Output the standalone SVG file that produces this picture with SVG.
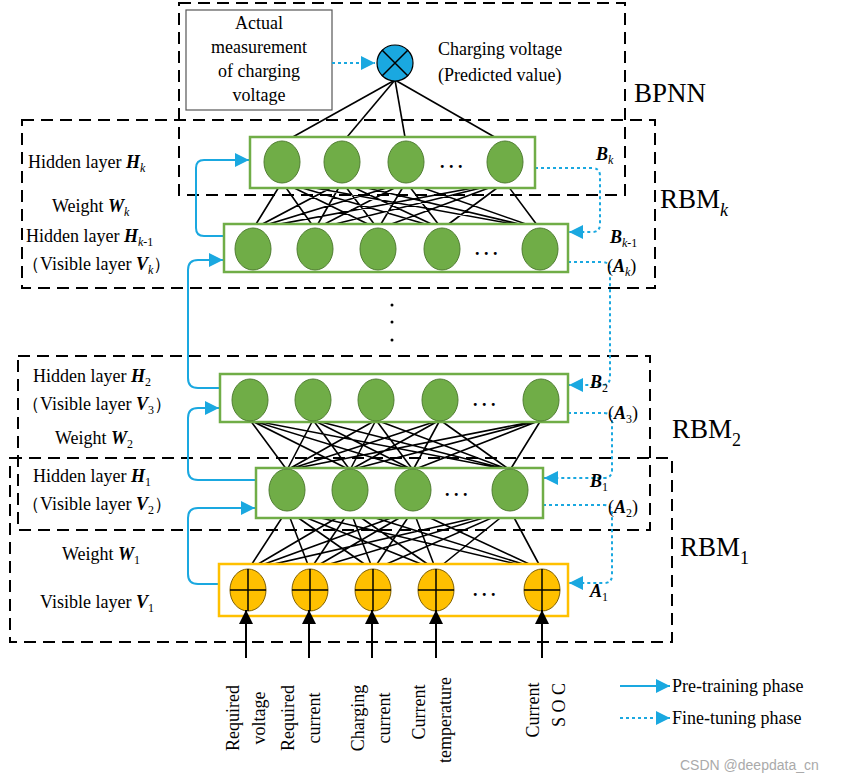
<svg xmlns="http://www.w3.org/2000/svg" width="850" height="782" viewBox="0 0 850 782" font-family="'Liberation Serif', 'Times New Roman', serif">
<defs>
<style>
text{font-family:"Liberation Serif","Times New Roman",serif;fill:#000}
.t{font-size:18px}
.dash{fill:none;stroke:#000;stroke-width:2;stroke-dasharray:12,7}
.lay{fill:#fff;stroke:#70ad47;stroke-width:2.5}
.g{fill:#70ad47;stroke:#507e32;stroke-width:1}
.o{fill:#ffc000;stroke:#7f6000;stroke-width:1}
.w{stroke:#000;stroke-width:1.6}
.pre{fill:none;stroke:#1aa8e0;stroke-width:2}
.fine{fill:none;stroke:#1aa8e0;stroke-width:2;stroke-dasharray:3,3}
</style>
<marker id="ab" viewBox="0 0 10 10" refX="10" refY="5" markerWidth="16" markerHeight="14" markerUnits="userSpaceOnUse" orient="auto"><path d="M0,0L10,5L0,10z" fill="#1aa8e0"/></marker>
<marker id="ak" viewBox="0 0 10 10" refX="10" refY="5" markerWidth="22" markerHeight="14" markerUnits="userSpaceOnUse" orient="auto"><path d="M0,0L10,5L0,10z" fill="#000"/></marker>
</defs>
<g id="frames">
<rect class="dash" x="179" y="3" width="446" height="192"/>
<rect class="dash" x="22" y="120" width="633" height="168"/>
<rect class="dash" x="18" y="356" width="632" height="174"/>
<rect class="dash" x="10" y="458" width="662" height="184"/>
</g>
<g id="measure"><rect x="186" y="10" width="146" height="100" fill="#fff" stroke="#555" stroke-width="1.2"/>
<text class="t" text-anchor="middle" x="259" y="29">Actual</text>
<text class="t" text-anchor="middle" x="259" y="53">measurement</text>
<text class="t" text-anchor="middle" x="259" y="77">of charging</text>
<text class="t" text-anchor="middle" x="259" y="101">voltage</text></g>
<g id="connectors">
<g class="w">
<line x1="395" y1="80" x2="282" y2="143"/><line x1="395" y1="80" x2="342" y2="143"/><line x1="395" y1="80" x2="406" y2="143"/><line x1="395" y1="80" x2="505" y2="143"/>
<path d="M282,182L253,229M282,182L315,229M282,182L378,229M282,182L442,229M282,182L540,229M342,182L253,229M342,182L315,229M342,182L378,229M342,182L442,229M342,182L540,229M406,182L253,229M406,182L315,229M406,182L378,229M406,182L442,229M406,182L540,229M505,182L253,229M505,182L315,229M505,182L378,229M505,182L442,229M505,182L540,229"/>
<path d="M250,420L287,470M313,420L287,470M376,420L287,470M440,420L287,470M541,420L287,470M250,420L350,470M313,420L350,470M376,420L350,470M440,420L350,470M541,420L350,470M250,420L413,470M313,420L413,470M376,420L413,470M440,420L413,470M541,420L413,470M250,420L510,470M313,420L510,470M376,420L510,470M440,420L510,470M541,420L510,470"/>
<path d="M287,510L248,570M287,510L310,570M287,510L373,570M287,510L436,570M287,510L542,570M350,510L248,570M350,510L310,570M350,510L373,570M350,510L436,570M350,510L542,570M413,510L248,570M413,510L310,570M413,510L373,570M413,510L436,570M413,510L542,570M510,510L248,570M510,510L310,570M510,510L373,570M510,510L436,570M510,510L542,570"/>
</g>
<path class="pre" d="M224,236H204Q196,236 196,228V168Q196,160 204,160H249" marker-end="url(#ab)"/>
<path class="pre" d="M220,388H198Q188,388 188,378V270Q188,260 198,260H223" marker-end="url(#ab)"/>
<path class="pre" d="M256,480H198Q188,480 188,470V418Q188,408 198,408H219" marker-end="url(#ab)"/>
<path class="pre" d="M219,584H198Q188,584 188,574V518Q188,508 198,508H255" marker-end="url(#ab)"/>
<path class="fine" d="M332,63H375" marker-end="url(#ab)"/>
<path class="fine" d="M535,168H592Q600,168 600,176V224Q600,232 592,232H569" marker-end="url(#ab)"/>
<path class="fine" d="M568,262H602Q610,262 610,270V377Q610,385 602,385H569" marker-end="url(#ab)"/>
<path class="fine" d="M568,413H604Q612,413 612,421V470Q612,478 604,478H544" marker-end="url(#ab)"/>
<path class="fine" d="M543,505H604Q612,505 612,513V575Q612,583 604,583H569" marker-end="url(#ab)"/>
</g>
<g id="output"><circle cx="395" cy="63" r="18" fill="#1aa8e0" stroke="#000" stroke-width="1.2"/><path d="M382,50L408,76M408,50L382,76" stroke="#000" stroke-width="1.5"/></g>
<g id="layer-Hk"><rect class="lay" x="250" y="137" width="285" height="51"/>
<ellipse class="g" cx="282" cy="162" rx="18" ry="21"/><ellipse class="g" cx="342" cy="162" rx="18" ry="21"/><ellipse class="g" cx="406" cy="162" rx="18" ry="21"/><ellipse class="g" cx="505" cy="162" rx="18" ry="21"/>
<text class="t" x="440" y="168" font-weight="bold">. . .</text></g>
<g id="layer-Hk1"><rect class="lay" x="224" y="224" width="344" height="48"/>
<ellipse class="g" cx="253" cy="249" rx="18" ry="21"/><ellipse class="g" cx="315" cy="249" rx="18" ry="21"/><ellipse class="g" cx="378" cy="249" rx="18" ry="21"/><ellipse class="g" cx="442" cy="249" rx="18" ry="21"/><ellipse class="g" cx="540" cy="249" rx="18" ry="21"/>
<text class="t" x="475" y="255" font-weight="bold">. . .</text></g>
<g id="vdots"><circle cx="392" cy="305" r="1.5"/><circle cx="392" cy="322" r="1.5"/><circle cx="392" cy="340" r="1.5"/></g>
<g id="layer-H2"><rect class="lay" x="220" y="374" width="348" height="48"/>
<ellipse class="g" cx="250" cy="400" rx="18" ry="21"/><ellipse class="g" cx="313" cy="400" rx="18" ry="21"/><ellipse class="g" cx="376" cy="400" rx="18" ry="21"/><ellipse class="g" cx="440" cy="400" rx="18" ry="21"/><ellipse class="g" cx="541" cy="400" rx="18" ry="21"/>
<text class="t" x="473" y="406" font-weight="bold">. . .</text></g>
<g id="layer-H1"><rect class="lay" x="256" y="468" width="287" height="50"/>
<ellipse class="g" cx="287" cy="490" rx="18" ry="21"/><ellipse class="g" cx="350" cy="490" rx="18" ry="21"/><ellipse class="g" cx="413" cy="490" rx="18" ry="21"/><ellipse class="g" cx="510" cy="490" rx="18" ry="21"/>
<text class="t" x="445" y="496" font-weight="bold">. . .</text></g>
<g id="layer-V1"><rect x="219" y="564" width="349" height="52" fill="#fff" stroke="#ffc000" stroke-width="2.5"/>
<g class="o"><ellipse cx="248" cy="590" rx="18" ry="21"/><ellipse cx="310" cy="590" rx="18" ry="21"/><ellipse cx="373" cy="590" rx="18" ry="21"/><ellipse cx="436" cy="590" rx="18" ry="21"/><ellipse cx="542" cy="590" rx="18" ry="21"/></g>
<path stroke="#000" stroke-width="1.5" d="M230,590H266M248,569V611M292,590H328M310,569V611M355,590H391M373,569V611M418,590H454M436,569V611M524,590H560M542,569V611"/>
<text class="t" x="473" y="596" font-weight="bold">. . .</text></g>
<g id="input-arrows" class="w" style="stroke-width:2">
<line x1="246" y1="658" x2="246" y2="610" marker-end="url(#ak)"/>
<line x1="309" y1="658" x2="309" y2="610" marker-end="url(#ak)"/>
<line x1="372" y1="658" x2="372" y2="610" marker-end="url(#ak)"/>
<line x1="436" y1="658" x2="436" y2="610" marker-end="url(#ak)"/>
<line x1="542" y1="658" x2="542" y2="610" marker-end="url(#ak)"/>
</g>
<g id="labels">
<text class="t" x="634" y="102" style="font-size:27px">BPNN</text>
<text class="t" x="438" y="55">Charging voltage</text>
<text class="t" x="438" y="81">(Predicted value)</text>
<text class="t" x="28" y="168">Hidden layer <tspan font-weight="bold" font-style="italic">H</tspan><tspan font-style="italic" font-size="12" dy="4">k</tspan></text>
<text class="t" x="52" y="212">Weight <tspan font-weight="bold" font-style="italic">W</tspan><tspan font-style="italic" font-size="12" dy="4">k</tspan></text>
<text class="t" x="26" y="242">Hidden layer <tspan font-weight="bold" font-style="italic">H</tspan><tspan font-style="italic" font-size="12" dy="4">k</tspan><tspan font-size="12">-1</tspan></text>
<text class="t" x="22" y="270">（Visible layer <tspan font-weight="bold" font-style="italic">V</tspan><tspan font-style="italic" font-size="12" dy="4">k</tspan><tspan dy="-4">）</tspan></text>
<text class="t" x="596" y="160" font-weight="bold" font-style="italic">B<tspan font-size="12" dy="4" font-weight="normal">k</tspan></text>
<text class="t" x="610" y="243" font-weight="bold" font-style="italic">B<tspan font-size="12" dy="4" font-weight="normal">k</tspan><tspan font-size="12" font-style="normal" font-weight="normal">-1</tspan></text>
<text class="t" x="607" y="272">(<tspan font-weight="bold" font-style="italic">A</tspan><tspan font-style="italic" font-size="12" dy="4">k</tspan><tspan dy="-4">)</tspan></text>
<text x="660" y="208" style="font-size:27px">RBM<tspan font-style="italic" font-size="18" dy="8">k</tspan></text>
<text class="t" x="33" y="382">Hidden layer <tspan font-weight="bold" font-style="italic">H</tspan><tspan font-size="12" dy="4">2</tspan></text>
<text class="t" x="22" y="410">（Visible layer <tspan font-weight="bold" font-style="italic">V</tspan><tspan font-size="12" dy="4">3</tspan><tspan dy="-4">）</tspan></text>
<text class="t" x="55" y="444">Weight <tspan font-weight="bold" font-style="italic">W</tspan><tspan font-size="12" dy="4">2</tspan></text>
<text class="t" x="590" y="388" font-weight="bold" font-style="italic">B<tspan font-size="12" dy="4" font-weight="normal" font-style="normal">2</tspan></text>
<text class="t" x="608" y="419">(<tspan font-weight="bold" font-style="italic">A</tspan><tspan font-size="12" dy="4">3</tspan><tspan dy="-4">)</tspan></text>
<text x="672" y="438" style="font-size:27px">RBM<tspan font-size="18" dy="8">2</tspan></text>
<text class="t" x="33" y="482">Hidden layer <tspan font-weight="bold" font-style="italic">H</tspan><tspan font-size="12" dy="4">1</tspan></text>
<text class="t" x="22" y="510">（Visible layer <tspan font-weight="bold" font-style="italic">V</tspan><tspan font-size="12" dy="4">2</tspan><tspan dy="-4">）</tspan></text>
<text class="t" x="62" y="560">Weight <tspan font-weight="bold" font-style="italic">W</tspan><tspan font-size="12" dy="4">1</tspan></text>
<text class="t" x="40" y="608">Visible layer <tspan font-weight="bold" font-style="italic">V</tspan><tspan font-size="12" dy="4">1</tspan></text>
<text class="t" x="590" y="487" font-weight="bold" font-style="italic">B<tspan font-size="12" dy="4" font-weight="normal" font-style="normal">1</tspan></text>
<text class="t" x="608" y="513">(<tspan font-weight="bold" font-style="italic">A</tspan><tspan font-size="12" dy="4">2</tspan><tspan dy="-4">)</tspan></text>
<text class="t" x="590" y="597" font-weight="bold" font-style="italic">A<tspan font-size="12" dy="4" font-weight="normal" font-style="normal">1</tspan></text>
<text x="680" y="556" style="font-size:27px">RBM<tspan font-size="18" dy="8">1</tspan></text>
</g>
<g id="inputs" text-anchor="middle">
<text class="t" transform="translate(239,718) rotate(-90)">Required</text>
<text class="t" transform="translate(265,718) rotate(-90)">voltage</text>
<text class="t" transform="translate(294,718) rotate(-90)">Required</text>
<text class="t" transform="translate(320,718) rotate(-90)">current</text>
<text class="t" transform="translate(364,718) rotate(-90)">Charging</text>
<text class="t" transform="translate(390,718) rotate(-90)">current</text>
<text class="t" transform="translate(425,712) rotate(-90)">Current</text>
<text class="t" transform="translate(451,720) rotate(-90)">temperature</text>
<text class="t" transform="translate(539,710) rotate(-90)">Current</text>
<text class="t" transform="translate(565,705) rotate(-90)">S O C</text>
</g>
<g id="legend">
<line class="pre" x1="620" y1="686" x2="670" y2="686" marker-end="url(#ab)"/>
<text class="t" x="672" y="692">Pre-training phase</text>
<line class="fine" x1="620" y1="718" x2="670" y2="718" marker-end="url(#ab)"/>
<text class="t" x="672" y="724">Fine-tuning phase</text>
<text x="680" y="770" style="font-family:'Liberation Sans',Arial,sans-serif;font-size:14px;fill:#aaa">CSDN @deepdata_cn</text>
</g>
</svg>
